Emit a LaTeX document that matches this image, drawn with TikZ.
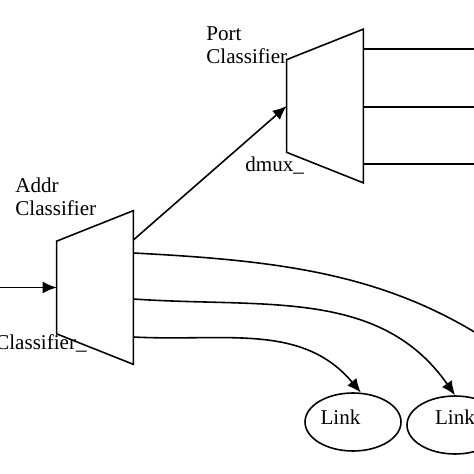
\documentclass[tikz,border=0pt]{standalone}
\usepackage{fontspec}
\setmainfont{Liberation Serif}
\usetikzlibrary{arrows.meta, calc, shapes.geometric}
\tikzset{
  classifier/.style={minimum width=15.2mm, minimum height=30.6mm, inner sep=0pt},
  linknode/.style={draw, ellipse, line width=0.9pt, inner sep=0pt,
                   minimum width=19.2mm, minimum height=11.6mm,
                   font=\fontsize{12}{13}\selectfont},
  lbl/.style={font=\fontsize{12}{13}\selectfont, align=left, inner sep=0pt},
  wire/.style={line width=0.9pt},
  flow/.style={-{Latex[length=2.8mm, width=2.4mm]}, line width=0.9pt},
}

\begin{document}
\begin{tikzpicture}[x=0.2mm, y=0.2mm]
  \clip (0,0) rectangle (474,474);

  % ============ CLASSIFIERS ============
  \node[classifier] (addr) at (95,186.5) {};
  \node[classifier] (port) at (325,368) {};
  \foreach \c in {addr, port} {
    \draw[wire] (\c.north east) -- (\c.south east)
      -- ($(\c.south west)+(0,30.5)$) -- ($(\c.north west)+(0,-30.5)$) -- cycle;
  }

  % labels
  \node[lbl, anchor=south west] (portname) at (206,410) {Port\\Classifier};
  \node[lbl, anchor=base west]  (dmux) at (245,302) {dmux\_};
  \node[lbl, anchor=south west] (addrname) at (15,258) {Addr\\Classifier};
  \node[lbl, anchor=base east]  (addrdmux) at (87,124) {Classifier\_};

  % ============ LINKS ============
  \node[linknode] (link1) at (353,52) {\raisebox{2mm}{Link}\hspace*{5mm}};
  \node[linknode] (link2) at (455,49) {\raisebox{3mm}{Link}};
  \coordinate (link3) at (560,78);

  % ============ CONNECTORS ============
  \coordinate (in) at (-10,186.5);
  \draw[flow] (in) -- (addr.west);
  \draw[flow] ($(addr.east)+(0,47.5)$) -- (port.west);

  % port outputs (off to the right)
  \foreach \dy/\n in {57/a, -1/b, -58/c} {
    \coordinate (out\n) at ($(port.east)+(130,\dy)$);
    \draw[wire] ($(port.east)+(0,\dy)$) -- (out\n);
  }

  % addr outputs
  \draw[wire] ($(addr.east)+(0,34.5)$) to[out=-3, in=138] (link3);
  \draw[flow] ($(addr.east)+(0,-11.5)$) to[out=-4, in=125] (link2.north);
  \draw[flow] ($(addr.east)+(0,-49.5)$) to[out=-3, in=130] (link1.75);

\end{tikzpicture}
\end{document}
